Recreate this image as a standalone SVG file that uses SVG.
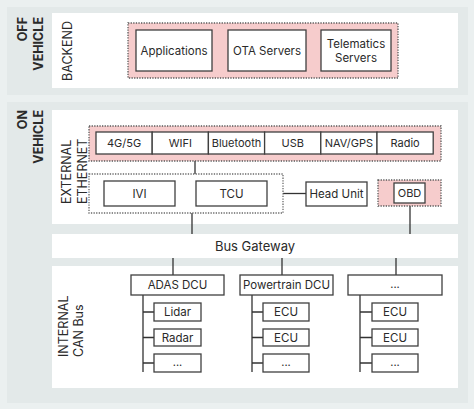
<svg xmlns="http://www.w3.org/2000/svg" width="474" height="409" viewBox="0 0 474 409">
<style>
text{font-family:Inter,"Liberation Sans",sans-serif;fill:#2a2a2a}
.box{fill:#fff;stroke:#3f3f3f;stroke-width:1.3}
.pink{fill:#f6cccc;stroke:#5a5a5a;stroke-width:1.3;stroke-dasharray:1.3 1.3}
.dot{fill:none;stroke:#6a6a6a;stroke-width:1.3;stroke-dasharray:1.3 1.3}
.t{font-size:11.5px;text-anchor:middle}
.s{font-size:11px;text-anchor:middle}
.lbl{font-size:12.5px;text-anchor:middle}
.big{font-size:12.5px;font-weight:700;text-anchor:end}
.panel{fill:#e3e9e9}
.white{fill:#fff}
.c line,.c path{stroke:#333;stroke-width:1.3;fill:none}
</style>
<rect width="474" height="409" fill="#ebf0f0"/>
<rect class="panel" x="7" y="7" width="461" height="88"/>
<rect class="panel" x="7" y="102" width="461" height="301"/>
<rect class="white" x="52" y="13" width="406" height="75"/>
<rect class="white" x="52" y="110" width="406" height="114"/>
<rect class="white" x="52" y="234" width="406" height="24"/>
<rect class="white" x="52" y="266" width="406" height="122"/>

<g id="labels">
<text class="big" transform="translate(27,17) rotate(-90)">OFF</text>
<text class="big" transform="translate(43,17) rotate(-90)">VEHICLE</text>
<text class="lbl" transform="translate(72,51) rotate(-90)">BACKEND</text>
<text class="big" transform="translate(27,110) rotate(-90)">ON</text>
<text class="big" transform="translate(43,110) rotate(-90)">VEHICLE</text>
<text class="lbl" style="text-anchor:start" transform="translate(71,204) rotate(-90)">EXTERNAL</text>
<text class="lbl" style="text-anchor:start" transform="translate(87,204) rotate(-90)">ETHERNET</text>
<text class="lbl" style="text-anchor:start" transform="translate(68,357) rotate(-90)">INTERNAL</text>
<text class="lbl" style="text-anchor:start" transform="translate(83,357) rotate(-90)">CAN Bus</text>
</g>

<g id="connectors" class="c">
<line x1="195" y1="161" x2="195" y2="174"/>
<line x1="283" y1="193.5" x2="306" y2="193.5"/>
<line x1="192" y1="213" x2="192" y2="234"/>
<line x1="410" y1="206" x2="410" y2="234"/>
<line x1="173" y1="258" x2="173" y2="275"/>
<line x1="282" y1="258" x2="282" y2="275"/>
<line x1="396" y1="258" x2="396" y2="275"/>
<path d="M143 295V372M143 312H154M143 337.5H154M143 363H154"/>
<path d="M252 295V372M252 312H263M252 337.5H263M252 363H263"/>
<path d="M360 295V372M360 312H372M360 337.5H372M360 363H372"/>
</g>

<g id="backend-group"><rect class="pink" x="128" y="23" width="270" height="55"/></g>
<g id="applications"><rect class="box" x="136" y="30" width="76" height="41"/><text class="t" x="174" y="54.5">Applications</text></g>
<g id="ota-servers"><rect class="box" x="228" y="30" width="78" height="41"/><text class="t" x="267" y="54.5">OTA Servers</text></g>
<g id="telematics-servers"><rect class="box" x="321" y="30" width="70" height="41"/><text class="t" x="356" y="47.5">Telematics</text><text class="t" x="356" y="62">Servers</text></g>

<g id="external-group"><rect class="pink" x="89" y="126" width="352" height="35"/></g>
<g id="n4g5g"><rect class="box" x="96" y="132" width="56.2" height="22"/><text class="s" x="124.1" y="147">4G/5G</text></g>
<g id="wifi"><rect class="box" x="152.2" y="132" width="56.2" height="22"/><text class="s" x="180.3" y="147">WIFI</text></g>
<g id="bluetooth"><rect class="box" x="208.4" y="132" width="56.2" height="22"/><text class="s" x="236.5" y="147">Bluetooth</text></g>
<g id="usb"><rect class="box" x="264.6" y="132" width="56.2" height="22"/><text class="s" x="292.7" y="147">USB</text></g>
<g id="navgps"><rect class="box" x="320.8" y="132" width="56.2" height="22"/><text class="s" x="348.9" y="147">NAV/GPS</text></g>
<g id="radio"><rect class="box" x="377" y="132" width="56.2" height="22"/><text class="s" x="405.1" y="147">Radio</text></g>

<g id="ivi-tcu-group"><rect class="dot" x="89" y="174" width="194" height="39"/></g>
<g id="ivi"><rect class="box" x="104" y="181" width="71" height="25"/><text class="t" x="139.5" y="197.5">IVI</text></g>
<g id="tcu"><rect class="box" x="196" y="181" width="71" height="25"/><text class="t" x="231.5" y="197.5">TCU</text></g>
<g id="head-unit"><rect class="box" x="306" y="182" width="61" height="24"/><text class="t" x="336.5" y="198">Head Unit</text></g>
<g id="obd-group"><rect class="pink" x="378" y="180" width="63" height="26"/></g>
<g id="obd"><rect class="box" x="394" y="183" width="31" height="20"/><text class="s" x="409.5" y="197">OBD</text></g>

<g id="bus-gateway"><text x="255" y="251" style="font-size:13px;text-anchor:middle">Bus Gateway</text></g>

<g id="adas-dcu"><rect class="box" x="131" y="275" width="93" height="20"/><text class="t" x="177.5" y="289">ADAS DCU</text></g>
<g id="powertrain-dcu"><rect class="box" x="240" y="275" width="93" height="20"/><text class="t" x="286.5" y="289">Powertrain DCU</text></g>
<g id="other-dcu"><rect class="box" x="348" y="275" width="94" height="20"/><text class="s" x="395" y="288">...</text></g>

<g id="lidar"><rect class="box" x="154" y="303" width="47" height="18"/><text class="t" x="177.5" y="316">Lidar</text></g>
<g id="radar"><rect class="box" x="154" y="329" width="47" height="17"/><text class="t" x="177.5" y="341.5">Radar</text></g>
<g id="adas-more"><rect class="box" x="154" y="354" width="47" height="18"/><text class="s" x="177.5" y="366">...</text></g>

<g id="ecu1"><rect class="box" x="263" y="303" width="46" height="18"/><text class="t" x="286" y="316">ECU</text></g>
<g id="ecu2"><rect class="box" x="263" y="329" width="46" height="17"/><text class="t" x="286" y="341.5">ECU</text></g>
<g id="pt-more"><rect class="box" x="263" y="354" width="46" height="18"/><text class="s" x="286" y="366">...</text></g>

<g id="ecu3"><rect class="box" x="372" y="303" width="46" height="18"/><text class="t" x="395" y="316">ECU</text></g>
<g id="ecu4"><rect class="box" x="372" y="329" width="46" height="17"/><text class="t" x="395" y="341.5">ECU</text></g>
<g id="other-more"><rect class="box" x="372" y="354" width="46" height="18"/><text class="s" x="395" y="366">...</text></g>
</svg>
